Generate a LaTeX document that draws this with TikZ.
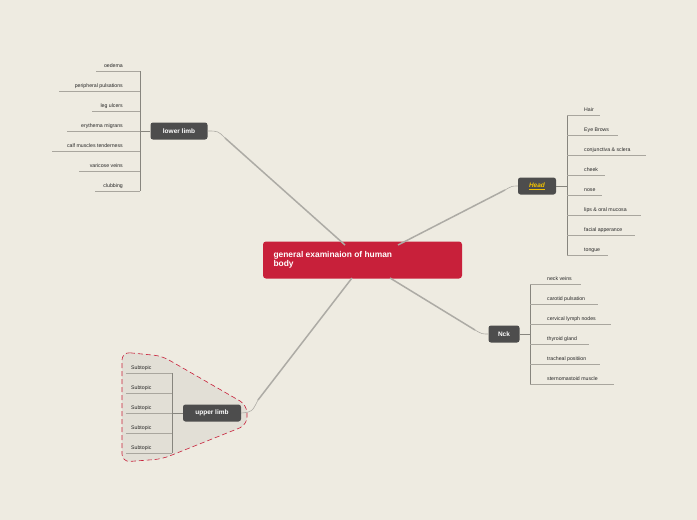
\documentclass[tikz,border=0pt]{standalone}
\usepackage{fontspec}
\setmainfont{Liberation Sans}
\begin{document}
\begin{tikzpicture}[x=1pt,y=-1pt,
  topic/.style={fill=topicgray,rounded corners=2.5pt,text=white,font=\bfseries\fontsize{6.5}{7}\selectfont,inner sep=0pt},
  sub/.style={font=\fontsize{5.2}{5.6}\selectfont,text=black!85,inner sep=0pt},
  ul/.style={draw=linegray,line width=0.6pt},
  trunk/.style={draw=linegray!80!black,line width=0.8pt},
  main/.style={draw=maingray,line width=1.5pt}]
\definecolor{bg}{HTML}{EEEBE1}
\definecolor{topicgray}{HTML}{4D4D4D}
\definecolor{linegray}{HTML}{A9A69E}
\definecolor{maingray}{HTML}{ADABA5}
\definecolor{redc}{HTML}{C8203A}
\definecolor{headyel}{HTML}{F2C200}
\fill[bg] (0,0) rectangle (697,520);
\useasboundingbox (0,0) rectangle (697,520);
% boundary
\draw[redc,dashed,dash pattern=on 5pt off 3pt,fill=black!5!bg,line width=0.6pt,rounded corners=8pt]
 (122,352) -- (162,356) -- (247,405) -- (247,425) -- (162,459) -- (122,462) -- cycle;
% central
\node[fill=redc,rounded corners=3pt,minimum width=199pt,minimum height=37pt,inner sep=0pt] (c) at (362.5,260) {};
\node[anchor=west,text=white,font=\bfseries\fontsize{8.4}{9}\selectfont,align=left] (ct) at (270,260) {general examinaion of human\\body};
% topics
\node[topic,minimum width=57pt,minimum height=17pt] (ll) at (179,131) {lower limb};
\node[topic,minimum width=38pt,minimum height=17pt,text=headyel] (hd) at (537,186) {\itshape\underline{Head}};
\node[topic,minimum width=31pt,minimum height=17pt] (nk) at (504,334) {Nck};
\node[topic,minimum width=58pt,minimum height=17pt] (ul) at (212,413) {upper limb};
% main connectors
\coordinate (c1) at (345,245); \coordinate (c2) at (398,245); \coordinate (c3) at (390,278); \coordinate (c4) at (352,278);
\draw[main] (c1) -- (225,138);
\draw[maingray,line width=0.6pt] (225,138) .. controls (218,131) .. (ll.east);
\draw[main] (c2) -- (505,190);
\draw[maingray,line width=0.6pt] (505,190) .. controls (512,186) .. (hd.west);
\draw[main] (c3) -- (475,330);
\draw[maingray,line width=0.6pt] (475,330) .. controls (482,334) .. (nk.west);
\draw[main] (c4) -- (258,400);
\draw[maingray,line width=0.6pt] (258,400) .. controls (252,412) .. (ul.east);
% lower limb subs
\draw[trunk] (ll.west) -- (140,131);
\draw[trunk] (140,71) -- (140,191);
\foreach \y/\l/\t in {71/96/oedema,91/59/peripheral pulsations,111/92/leg ulcers,131/67/erythema migrans,151/52/calf muscles tenderness,171/79/varicose veins,191/95/clubbing}{
  \draw[ul] (\l,\y) -- (140,\y);
  \node[sub,anchor=base east] at (123,\y-4) {\t};}
% head subs
\draw[trunk] (hd.east) -- (567,186);
\draw[trunk] (567,115) -- (567,255);
\foreach \y/\r/\t in {115/600/Hair,135/618/Eye Brows,155/646/conjunctiva \& sclera,175/605/cheek,195/602/nose,215/641/lips \& oral mucosa,235/635/facial apperance,255/608/tongue}{
  \draw[ul] (567,\y) -- (\r,\y);
  \node[sub,anchor=base west] at (584,\y-4) {\t};}
% neck subs
\draw[trunk] (nk.east) -- (530,334);
\draw[trunk] (530,284) -- (530,384);
\foreach \y/\r/\t in {284/581/neck veins,304/598/carotid pulsation,324/611/cervical lymph nodes,344/589/thyroid gland,364/600/tracheal positiion,384/614/sternomastoid muscle}{
  \draw[ul] (530,\y) -- (\r,\y);
  \node[sub,anchor=base west] at (547,\y-4) {\t};}
% upper limb subs
\draw[trunk] (ul.west) -- (172,413);
\draw[trunk] (172,373) -- (172,453);
\foreach \y in {373,393,413,433,453}{
  \draw[ul] (126,\y) -- (172,\y);
  \node[sub,anchor=base west] at (131,\y-4) {Subtopic};}
\end{tikzpicture}
\end{document}
